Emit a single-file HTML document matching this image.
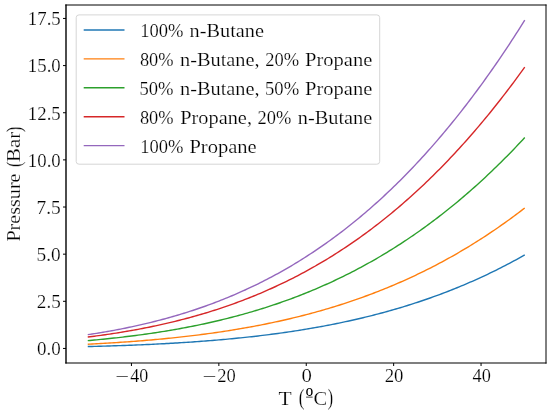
<!DOCTYPE html>
<html><head><meta charset="utf-8"><style>
html,body{margin:0;padding:0;background:#fff;overflow:hidden;}
svg{display:block;}
text{font-family:"Liberation Serif", "DejaVu Serif", serif;font-size:19px;fill:#000;font-kerning:none;stroke:#fff;stroke-width:0.2px;paint-order:fill;}
</style></head><body>
<svg width="550" height="413" viewBox="0 0 550 413">
<rect width="550" height="413" fill="#fff"/>
<polyline points="87.75,346.57 89.94,346.51 92.12,346.46 94.31,346.40 96.49,346.34 98.67,346.28 100.86,346.22 103.04,346.16 105.23,346.09 107.41,346.02 109.60,345.96 111.78,345.89 113.97,345.82 116.16,345.74 118.34,345.67 120.53,345.59 122.71,345.52 124.89,345.44 127.08,345.36 129.26,345.27 131.45,345.19 133.63,345.10 135.82,345.01 138.00,344.92 140.19,344.83 142.38,344.74 144.56,344.64 146.75,344.54 148.93,344.44 151.12,344.34 153.30,344.23 155.48,344.13 157.67,344.02 159.85,343.91 162.04,343.79 164.22,343.68 166.41,343.56 168.59,343.44 170.78,343.32 172.97,343.19 175.15,343.06 177.34,342.93 179.52,342.80 181.70,342.66 183.89,342.52 186.07,342.38 188.26,342.24 190.44,342.09 192.63,341.94 194.81,341.79 197.00,341.63 199.19,341.47 201.37,341.31 203.56,341.15 205.74,340.98 207.93,340.81 210.11,340.64 212.30,340.46 214.48,340.28 216.66,340.10 218.85,339.91 221.03,339.72 223.22,339.53 225.41,339.33 227.59,339.13 229.77,338.92 231.96,338.72 234.14,338.51 236.33,338.29 238.51,338.07 240.70,337.85 242.88,337.62 245.07,337.39 247.25,337.16 249.44,336.92 251.62,336.68 253.81,336.43 256.00,336.18 258.18,335.93 260.37,335.67 262.55,335.40 264.74,335.14 266.92,334.86 269.11,334.59 271.29,334.31 273.48,334.02 275.66,333.73 277.85,333.44 280.03,333.14 282.21,332.83 284.40,332.52 286.58,332.21 288.77,331.89 290.95,331.57 293.14,331.24 295.32,330.91 297.51,330.57 299.69,330.22 301.88,329.87 304.06,329.52 306.25,329.16 308.44,328.79 310.62,328.42 312.81,328.04 314.99,327.66 317.18,327.27 319.36,326.88 321.55,326.48 323.73,326.08 325.92,325.66 328.10,325.25 330.29,324.82 332.47,324.40 334.65,323.96 336.84,323.52 339.02,323.07 341.21,322.62 343.39,322.16 345.58,321.69 347.76,321.21 349.95,320.73 352.13,320.25 354.32,319.75 356.50,319.25 358.69,318.75 360.88,318.23 363.06,317.71 365.25,317.18 367.43,316.65 369.62,316.11 371.80,315.56 373.99,315.00 376.17,314.43 378.36,313.86 380.54,313.28 382.73,312.70 384.91,312.10 387.10,311.50 389.28,310.89 391.47,310.27 393.65,309.65 395.84,309.01 398.02,308.37 400.20,307.72 402.39,307.06 404.57,306.40 406.76,305.72 408.94,305.04 411.13,304.35 413.31,303.65 415.50,302.94 417.69,302.22 419.87,301.50 422.06,300.76 424.24,300.02 426.43,299.27 428.61,298.51 430.80,297.74 432.98,296.96 435.16,296.17 437.35,295.37 439.53,294.56 441.72,293.74 443.90,292.92 446.09,292.08 448.27,291.23 450.46,290.38 452.64,289.51 454.83,288.64 457.01,287.75 459.20,286.86 461.38,285.95 463.57,285.04 465.75,284.11 467.94,283.17 470.12,282.23 472.31,281.27 474.50,280.30 476.68,279.32 478.87,278.33 481.05,277.33 483.24,276.32 485.42,275.30 487.61,274.27 489.79,273.22 491.98,272.17 494.16,271.10 496.35,270.02 498.53,268.93 500.72,267.83 502.90,266.72 505.09,265.60 507.27,264.46 509.46,263.31 511.64,262.16 513.83,260.98 516.01,259.80 518.19,258.61 520.38,257.40 522.57,256.18 524.75,254.95" fill="none" stroke="#1f77b4" stroke-width="1.4" stroke-linecap="butt" stroke-linejoin="round"/>
<polyline points="87.75,344.19 89.94,344.08 92.12,343.97 94.31,343.86 96.49,343.74 98.67,343.62 100.86,343.50 103.04,343.37 105.23,343.25 107.41,343.12 109.60,342.99 111.78,342.85 113.97,342.72 116.16,342.58 118.34,342.43 120.53,342.29 122.71,342.14 124.89,341.99 127.08,341.84 129.26,341.68 131.45,341.52 133.63,341.36 135.82,341.19 138.00,341.02 140.19,340.85 142.38,340.68 144.56,340.50 146.75,340.31 148.93,340.13 151.12,339.94 153.30,339.75 155.48,339.55 157.67,339.35 159.85,339.15 162.04,338.94 164.22,338.73 166.41,338.52 168.59,338.30 170.78,338.08 172.97,337.86 175.15,337.63 177.34,337.39 179.52,337.16 181.70,336.92 183.89,336.67 186.07,336.42 188.26,336.17 190.44,335.91 192.63,335.65 194.81,335.38 197.00,335.11 199.19,334.83 201.37,334.55 203.56,334.27 205.74,333.98 207.93,333.68 210.11,333.39 212.30,333.08 214.48,332.77 216.66,332.46 218.85,332.14 221.03,331.82 223.22,331.49 225.41,331.16 227.59,330.82 229.77,330.47 231.96,330.12 234.14,329.77 236.33,329.41 238.51,329.04 240.70,328.67 242.88,328.29 245.07,327.91 247.25,327.52 249.44,327.13 251.62,326.73 253.81,326.32 256.00,325.91 258.18,325.49 260.37,325.07 262.55,324.64 264.74,324.20 266.92,323.76 269.11,323.31 271.29,322.86 273.48,322.39 275.66,321.93 277.85,321.45 280.03,320.97 282.21,320.48 284.40,319.99 286.58,319.48 288.77,318.98 290.95,318.46 293.14,317.94 295.32,317.41 297.51,316.87 299.69,316.33 301.88,315.77 304.06,315.21 306.25,314.65 308.44,314.07 310.62,313.49 312.81,312.90 314.99,312.31 317.18,311.70 319.36,311.09 321.55,310.47 323.73,309.84 325.92,309.20 328.10,308.56 330.29,307.90 332.47,307.24 334.65,306.57 336.84,305.90 339.02,305.21 341.21,304.51 343.39,303.81 345.58,303.10 347.76,302.38 349.95,301.65 352.13,300.91 354.32,300.16 356.50,299.40 358.69,298.64 360.88,297.86 363.06,297.08 365.25,296.28 367.43,295.48 369.62,294.67 371.80,293.85 373.99,293.01 376.17,292.17 378.36,291.32 380.54,290.46 382.73,289.59 384.91,288.71 387.10,287.82 389.28,286.92 391.47,286.00 393.65,285.08 395.84,284.15 398.02,283.21 400.20,282.25 402.39,281.29 404.57,280.32 406.76,279.33 408.94,278.33 411.13,277.33 413.31,276.31 415.50,275.28 417.69,274.24 419.87,273.19 422.06,272.12 424.24,271.05 426.43,269.96 428.61,268.87 430.80,267.76 432.98,266.64 435.16,265.51 437.35,264.36 439.53,263.21 441.72,262.04 443.90,260.86 446.09,259.67 448.27,258.46 450.46,257.25 452.64,256.02 454.83,254.77 457.01,253.52 459.20,252.25 461.38,250.97 463.57,249.68 465.75,248.38 467.94,247.06 470.12,245.73 472.31,244.39 474.50,243.03 476.68,241.66 478.87,240.27 481.05,238.88 483.24,237.47 485.42,236.04 487.61,234.60 489.79,233.15 491.98,231.69 494.16,230.21 496.35,228.72 498.53,227.21 500.72,225.69 502.90,224.15 505.09,222.60 507.27,221.04 509.46,219.46 511.64,217.87 513.83,216.26 516.01,214.64 518.19,213.00 520.38,211.35 522.57,209.68 524.75,208.00" fill="none" stroke="#ff7f0e" stroke-width="1.4" stroke-linecap="butt" stroke-linejoin="round"/>
<polyline points="87.75,340.62 89.94,340.43 92.12,340.24 94.31,340.04 96.49,339.84 98.67,339.63 100.86,339.42 103.04,339.20 105.23,338.98 107.41,338.76 109.60,338.53 111.78,338.30 113.97,338.07 116.16,337.83 118.34,337.58 120.53,337.33 122.71,337.08 124.89,336.82 127.08,336.56 129.26,336.29 131.45,336.02 133.63,335.74 135.82,335.46 138.00,335.17 140.19,334.88 142.38,334.58 144.56,334.28 146.75,333.97 148.93,333.66 151.12,333.34 153.30,333.02 155.48,332.69 157.67,332.36 159.85,332.02 162.04,331.67 164.22,331.32 166.41,330.96 168.59,330.60 170.78,330.23 172.97,329.86 175.15,329.48 177.34,329.09 179.52,328.70 181.70,328.30 183.89,327.89 186.07,327.48 188.26,327.06 190.44,326.64 192.63,326.20 194.81,325.77 197.00,325.32 199.19,324.87 201.37,324.41 203.56,323.95 205.74,323.47 207.93,322.99 210.11,322.51 212.30,322.01 214.48,321.51 216.66,321.00 218.85,320.49 221.03,319.96 223.22,319.43 225.41,318.90 227.59,318.35 229.77,317.79 231.96,317.23 234.14,316.66 236.33,316.08 238.51,315.50 240.70,314.90 242.88,314.30 245.07,313.69 247.25,313.07 249.44,312.44 251.62,311.81 253.81,311.16 256.00,310.51 258.18,309.84 260.37,309.17 262.55,308.49 264.74,307.80 266.92,307.10 269.11,306.40 271.29,305.68 273.48,304.95 275.66,304.22 277.85,303.47 280.03,302.72 282.21,301.95 284.40,301.18 286.58,300.39 288.77,299.60 290.95,298.80 293.14,297.98 295.32,297.16 297.51,296.32 299.69,295.48 301.88,294.62 304.06,293.76 306.25,292.88 308.44,292.00 310.62,291.10 312.81,290.19 314.99,289.27 317.18,288.34 319.36,287.40 321.55,286.45 323.73,285.48 325.92,284.51 328.10,283.52 330.29,282.53 332.47,281.52 334.65,280.50 336.84,279.46 339.02,278.42 341.21,277.36 343.39,276.29 345.58,275.21 347.76,274.12 349.95,273.02 352.13,271.90 354.32,270.77 356.50,269.63 358.69,268.48 360.88,267.31 363.06,266.13 365.25,264.94 367.43,263.73 369.62,262.51 371.80,261.28 373.99,260.04 376.17,258.78 378.36,257.51 380.54,256.23 382.73,254.93 384.91,253.62 387.10,252.29 389.28,250.95 391.47,249.60 393.65,248.23 395.84,246.85 398.02,245.46 400.20,244.05 402.39,242.63 404.57,241.19 406.76,239.74 408.94,238.27 411.13,236.79 413.31,235.30 415.50,233.79 417.69,232.26 419.87,230.72 422.06,229.17 424.24,227.60 426.43,226.01 428.61,224.41 430.80,222.79 432.98,221.16 435.16,219.52 437.35,217.85 439.53,216.18 441.72,214.48 443.90,212.77 446.09,211.05 448.27,209.30 450.46,207.55 452.64,205.77 454.83,203.98 457.01,202.17 459.20,200.35 461.38,198.51 463.57,196.65 465.75,194.78 467.94,192.89 470.12,190.98 472.31,189.06 474.50,187.12 476.68,185.16 478.87,183.19 481.05,181.19 483.24,179.18 485.42,177.16 487.61,175.11 489.79,173.05 491.98,170.97 494.16,168.87 496.35,166.75 498.53,164.62 500.72,162.47 502.90,160.30 505.09,158.11 507.27,155.90 509.46,153.68 511.64,151.43 513.83,149.17 516.01,146.89 518.19,144.59 520.38,142.27 522.57,139.93 524.75,137.58" fill="none" stroke="#2ca02c" stroke-width="1.4" stroke-linecap="butt" stroke-linejoin="round"/>
<polyline points="87.75,337.06 89.94,336.79 92.12,336.51 94.31,336.22 96.49,335.93 98.67,335.64 100.86,335.34 103.04,335.03 105.23,334.72 107.41,334.40 109.60,334.08 111.78,333.75 113.97,333.42 116.16,333.08 118.34,332.73 120.53,332.38 122.71,332.02 124.89,331.65 127.08,331.28 129.26,330.90 131.45,330.52 133.63,330.12 135.82,329.73 138.00,329.32 140.19,328.91 142.38,328.49 144.56,328.06 146.75,327.63 148.93,327.19 151.12,326.74 153.30,326.29 155.48,325.83 157.67,325.36 159.85,324.88 162.04,324.40 164.22,323.91 166.41,323.40 168.59,322.90 170.78,322.38 172.97,321.86 175.15,321.32 177.34,320.78 179.52,320.24 181.70,319.68 183.89,319.11 186.07,318.54 188.26,317.96 190.44,317.36 192.63,316.76 194.81,316.15 197.00,315.54 199.19,314.91 201.37,314.27 203.56,313.62 205.74,312.97 207.93,312.30 210.11,311.63 212.30,310.95 214.48,310.25 216.66,309.55 218.85,308.84 221.03,308.11 223.22,307.38 225.41,306.63 227.59,305.88 229.77,305.12 231.96,304.34 234.14,303.56 236.33,302.76 238.51,301.95 240.70,301.14 242.88,300.31 245.07,299.47 247.25,298.62 249.44,297.76 251.62,296.88 253.81,296.00 256.00,295.10 258.18,294.20 260.37,293.28 262.55,292.35 264.74,291.40 266.92,290.45 269.11,289.48 271.29,288.50 273.48,287.51 275.66,286.51 277.85,285.49 280.03,284.47 282.21,283.42 284.40,282.37 286.58,281.31 288.77,280.23 290.95,279.13 293.14,278.03 295.32,276.91 297.51,275.78 299.69,274.63 301.88,273.48 304.06,272.30 306.25,271.12 308.44,269.92 310.62,268.70 312.81,267.48 314.99,266.24 317.18,264.98 319.36,263.71 321.55,262.43 323.73,261.13 325.92,259.82 328.10,258.49 330.29,257.15 332.47,255.79 334.65,254.42 336.84,253.03 339.02,251.63 341.21,250.21 343.39,248.78 345.58,247.33 347.76,245.87 349.95,244.39 352.13,242.89 354.32,241.38 356.50,239.86 358.69,238.31 360.88,236.76 363.06,235.18 365.25,233.59 367.43,231.98 369.62,230.36 371.80,228.72 373.99,227.06 376.17,225.39 378.36,223.70 380.54,221.99 382.73,220.27 384.91,218.53 387.10,216.77 389.28,214.99 391.47,213.20 393.65,211.39 395.84,209.56 398.02,207.71 400.20,205.85 402.39,203.97 404.57,202.07 406.76,200.15 408.94,198.21 411.13,196.26 413.31,194.28 415.50,192.29 417.69,190.28 419.87,188.25 422.06,186.21 424.24,184.14 426.43,182.06 428.61,179.95 430.80,177.83 432.98,175.69 435.16,173.53 437.35,171.34 439.53,169.14 441.72,166.92 443.90,164.68 446.09,162.42 448.27,160.15 450.46,157.85 452.64,155.53 454.83,153.19 457.01,150.83 459.20,148.45 461.38,146.05 463.57,143.63 465.75,141.18 467.94,138.72 470.12,136.24 472.31,133.74 474.50,131.21 476.68,128.66 478.87,126.10 481.05,123.51 483.24,120.90 485.42,118.27 487.61,115.62 489.79,112.94 491.98,110.25 494.16,107.53 496.35,104.79 498.53,102.03 500.72,99.25 502.90,96.44 505.09,93.61 507.27,90.77 509.46,87.89 511.64,85.00 513.83,82.08 516.01,79.14 518.19,76.18 520.38,73.20 522.57,70.19 524.75,67.16" fill="none" stroke="#d62728" stroke-width="1.4" stroke-linecap="butt" stroke-linejoin="round"/>
<polyline points="87.75,334.68 89.94,334.35 92.12,334.02 94.31,333.68 96.49,333.33 98.67,332.98 100.86,332.62 103.04,332.25 105.23,331.88 107.41,331.50 109.60,331.11 111.78,330.72 113.97,330.32 116.16,329.91 118.34,329.49 120.53,329.07 122.71,328.64 124.89,328.20 127.08,327.76 129.26,327.31 131.45,326.85 133.63,326.38 135.82,325.90 138.00,325.42 140.19,324.93 142.38,324.43 144.56,323.92 146.75,323.40 148.93,322.88 151.12,322.35 153.30,321.80 155.48,321.25 157.67,320.69 159.85,320.13 162.04,319.55 164.22,318.96 166.41,318.37 168.59,317.76 170.78,317.15 172.97,316.52 175.15,315.89 177.34,315.25 179.52,314.59 181.70,313.93 183.89,313.26 186.07,312.58 188.26,311.88 190.44,311.18 192.63,310.47 194.81,309.74 197.00,309.01 199.19,308.27 201.37,307.51 203.56,306.74 205.74,305.97 207.93,305.18 210.11,304.38 212.30,303.57 214.48,302.75 216.66,301.91 218.85,301.07 221.03,300.21 223.22,299.34 225.41,298.46 227.59,297.57 229.77,296.66 231.96,295.75 234.14,294.82 236.33,293.88 238.51,292.92 240.70,291.96 242.88,290.98 245.07,289.99 247.25,288.98 249.44,287.97 251.62,286.93 253.81,285.89 256.00,284.83 258.18,283.76 260.37,282.68 262.55,281.58 264.74,280.47 266.92,279.34 269.11,278.21 271.29,277.05 273.48,275.89 275.66,274.70 277.85,273.51 280.03,272.30 282.21,271.07 284.40,269.83 286.58,268.58 288.77,267.31 290.95,266.03 293.14,264.73 295.32,263.41 297.51,262.08 299.69,260.74 301.88,259.38 304.06,258.00 306.25,256.61 308.44,255.20 310.62,253.78 312.81,252.34 314.99,250.88 317.18,249.41 319.36,247.92 321.55,246.41 323.73,244.89 325.92,243.35 328.10,241.80 330.29,240.23 332.47,238.64 334.65,237.03 336.84,235.41 339.02,233.77 341.21,232.11 343.39,230.43 345.58,228.74 347.76,227.03 349.95,225.30 352.13,223.56 354.32,221.79 356.50,220.01 358.69,218.21 360.88,216.39 363.06,214.55 365.25,212.69 367.43,210.82 369.62,208.92 371.80,207.01 373.99,205.08 376.17,203.13 378.36,201.16 380.54,199.17 382.73,197.16 384.91,195.13 387.10,193.08 389.28,191.02 391.47,188.93 393.65,186.82 395.84,184.69 398.02,182.55 400.20,180.38 402.39,178.19 404.57,175.98 406.76,173.75 408.94,171.50 411.13,169.23 413.31,166.94 415.50,164.63 417.69,162.30 419.87,159.94 422.06,157.57 424.24,155.17 426.43,152.75 428.61,150.31 430.80,147.85 432.98,145.37 435.16,142.87 437.35,140.34 439.53,137.79 441.72,135.22 443.90,132.63 446.09,130.01 448.27,127.37 450.46,124.71 452.64,122.03 454.83,119.32 457.01,116.60 459.20,113.84 461.38,111.07 463.57,108.27 465.75,105.45 467.94,102.61 470.12,99.74 472.31,96.85 474.50,93.94 476.68,91.00 478.87,88.04 481.05,85.05 483.24,82.05 485.42,79.01 487.61,75.95 489.79,72.87 491.98,69.77 494.16,66.64 496.35,63.48 498.53,60.30 500.72,57.10 502.90,53.87 505.09,50.62 507.27,47.34 509.46,44.04 511.64,40.71 513.83,37.36 516.01,33.98 518.19,30.57 520.38,27.14 522.57,23.69 524.75,20.21" fill="none" stroke="#9467bd" stroke-width="1.4" stroke-linecap="butt" stroke-linejoin="round"/>
<rect x="76.2" y="14.9" width="303.5" height="149.3" rx="2.8" ry="2.8" fill="#fff" fill-opacity="0.8" stroke="#d6d6d6" stroke-width="1"/>
<line x1="83.7" y1="30.00" x2="124.5" y2="30.00" stroke="#1f77b4" stroke-width="1.4"/>
<text><tspan x="140.17" y="37.00" textLength="43.16" lengthAdjust="spacingAndGlyphs">100%</tspan> <tspan x="189.63" y="37.00" textLength="74.37" lengthAdjust="spacingAndGlyphs">n-Butane</tspan></text>
<line x1="83.7" y1="58.90" x2="124.5" y2="58.90" stroke="#ff7f0e" stroke-width="1.4"/>
<text><tspan x="139.90" y="65.90" textLength="33.63" lengthAdjust="spacingAndGlyphs">80%</tspan> <tspan x="180.03" y="65.90" textLength="79.65" lengthAdjust="spacingAndGlyphs">n-Butane,</tspan> <tspan x="265.29" y="65.90" textLength="33.84" lengthAdjust="spacingAndGlyphs">20%</tspan> <tspan x="305.01" y="65.90" textLength="67.30" lengthAdjust="spacingAndGlyphs">Propane</tspan></text>
<line x1="83.7" y1="87.80" x2="124.5" y2="87.80" stroke="#2ca02c" stroke-width="1.4"/>
<text><tspan x="139.52" y="94.80" textLength="34.01" lengthAdjust="spacingAndGlyphs">50%</tspan> <tspan x="180.03" y="94.80" textLength="79.65" lengthAdjust="spacingAndGlyphs">n-Butane,</tspan> <tspan x="265.02" y="94.80" textLength="34.12" lengthAdjust="spacingAndGlyphs">50%</tspan> <tspan x="305.01" y="94.80" textLength="67.30" lengthAdjust="spacingAndGlyphs">Propane</tspan></text>
<line x1="83.7" y1="116.70" x2="124.5" y2="116.70" stroke="#d62728" stroke-width="1.4"/>
<text><tspan x="139.90" y="123.70" textLength="33.63" lengthAdjust="spacingAndGlyphs">80%</tspan> <tspan x="180.31" y="123.70" textLength="71.67" lengthAdjust="spacingAndGlyphs">Propane,</tspan> <tspan x="257.59" y="123.70" textLength="33.74" lengthAdjust="spacingAndGlyphs">20%</tspan> <tspan x="297.73" y="123.70" textLength="74.57" lengthAdjust="spacingAndGlyphs">n-Butane</tspan></text>
<line x1="83.7" y1="145.60" x2="124.5" y2="145.60" stroke="#9467bd" stroke-width="1.4"/>
<text><tspan x="140.17" y="152.60" textLength="43.16" lengthAdjust="spacingAndGlyphs">100%</tspan> <tspan x="189.41" y="152.60" textLength="67.30" lengthAdjust="spacingAndGlyphs">Propane</tspan></text>
<line x1="131.45" y1="363.00" x2="131.45" y2="366.00" stroke="#000" stroke-width="1"/>
<text><tspan x="115.22" y="383.30" textLength="13.94" lengthAdjust="spacingAndGlyphs">−</tspan><tspan x="130.30" y="381.90" textLength="18.04" lengthAdjust="spacingAndGlyphs">40</tspan></text>
<line x1="218.85" y1="363.00" x2="218.85" y2="366.00" stroke="#000" stroke-width="1"/>
<text><tspan x="202.62" y="383.30" textLength="13.94" lengthAdjust="spacingAndGlyphs">−</tspan><tspan x="217.24" y="381.90" textLength="18.52" lengthAdjust="spacingAndGlyphs">20</tspan></text>
<line x1="306.25" y1="363.00" x2="306.25" y2="366.00" stroke="#000" stroke-width="1"/>
<text><tspan x="301.56" y="381.90" textLength="10.38" lengthAdjust="spacingAndGlyphs">0</tspan></text>
<line x1="393.65" y1="363.00" x2="393.65" y2="366.00" stroke="#000" stroke-width="1"/>
<text><tspan x="384.73" y="381.90" textLength="18.74" lengthAdjust="spacingAndGlyphs">20</tspan></text>
<line x1="481.05" y1="363.00" x2="481.05" y2="366.00" stroke="#000" stroke-width="1"/>
<text><tspan x="472.59" y="381.90" textLength="18.25" lengthAdjust="spacingAndGlyphs">40</tspan></text>
<line x1="63.00" y1="348.45" x2="66.00" y2="348.45" stroke="#000" stroke-width="1"/>
<text><tspan x="36.98" y="355.35" textLength="23.75" lengthAdjust="spacingAndGlyphs">0.0</tspan></text>
<line x1="63.00" y1="301.31" x2="66.00" y2="301.31" stroke="#000" stroke-width="1"/>
<text><tspan x="36.86" y="308.21" textLength="23.89" lengthAdjust="spacingAndGlyphs">2.5</tspan></text>
<line x1="63.00" y1="254.16" x2="66.00" y2="254.16" stroke="#000" stroke-width="1"/>
<text><tspan x="36.58" y="261.06" textLength="24.16" lengthAdjust="spacingAndGlyphs">5.0</tspan></text>
<line x1="63.00" y1="207.02" x2="66.00" y2="207.02" stroke="#000" stroke-width="1"/>
<text><tspan x="36.42" y="213.92" textLength="24.34" lengthAdjust="spacingAndGlyphs">7.5</tspan></text>
<line x1="63.00" y1="159.88" x2="66.00" y2="159.88" stroke="#000" stroke-width="1"/>
<text><tspan x="27.85" y="166.78" textLength="32.87" lengthAdjust="spacingAndGlyphs">10.0</tspan></text>
<line x1="63.00" y1="112.74" x2="66.00" y2="112.74" stroke="#000" stroke-width="1"/>
<text><tspan x="27.85" y="119.64" textLength="32.89" lengthAdjust="spacingAndGlyphs">12.5</tspan></text>
<line x1="63.00" y1="65.59" x2="66.00" y2="65.59" stroke="#000" stroke-width="1"/>
<text><tspan x="27.85" y="72.49" textLength="32.87" lengthAdjust="spacingAndGlyphs">15.0</tspan></text>
<line x1="63.00" y1="18.45" x2="66.00" y2="18.45" stroke="#000" stroke-width="1"/>
<text><tspan x="27.85" y="25.35" textLength="32.89" lengthAdjust="spacingAndGlyphs">17.5</tspan></text>
<line x1="65.30" y1="5.00" x2="546.50" y2="5.00" stroke="#000" stroke-width="1.0"/>
<line x1="65.30" y1="363.00" x2="546.50" y2="363.00" stroke="#000" stroke-width="1.2"/>
<line x1="66.00" y1="4.50" x2="66.00" y2="363.60" stroke="#000" stroke-width="1.4"/>
<line x1="546.00" y1="4.50" x2="546.00" y2="363.60" stroke="#000" stroke-width="1.0"/>
<text><tspan x="278.61" y="404.60" textLength="13.15" lengthAdjust="spacingAndGlyphs">T</tspan> <tspan x="298.85" y="405.30" textLength="5.70" lengthAdjust="spacingAndGlyphs" style="font-size:22.06px">(</tspan><tspan x="305.67" y="405.89" textLength="7.36" lengthAdjust="spacingAndGlyphs" style="font-size:26.29px;stroke:none">º</tspan><tspan x="313.46" y="404.60" textLength="13.67" lengthAdjust="spacingAndGlyphs">C</tspan><tspan x="327.69" y="405.30" textLength="5.32" lengthAdjust="spacingAndGlyphs" style="font-size:22.06px">)</tspan></text>
<rect x="306.1" y="396.7" width="6.5" height="0.8" fill="#111"/>
<text transform="rotate(-90)"><tspan x="-241.58" y="20.20" textLength="68.08" lengthAdjust="spacingAndGlyphs">Pressure</tspan> <tspan x="-167.10" y="20.99" textLength="5.32" lengthAdjust="spacingAndGlyphs" style="font-size:20.73px">(</tspan><tspan x="-162.10" y="20.20" textLength="30.29" lengthAdjust="spacingAndGlyphs">Bar</tspan><tspan x="-131.91" y="20.99" textLength="5.32" lengthAdjust="spacingAndGlyphs" style="font-size:20.73px">)</tspan></text>
</svg>
</body></html>
